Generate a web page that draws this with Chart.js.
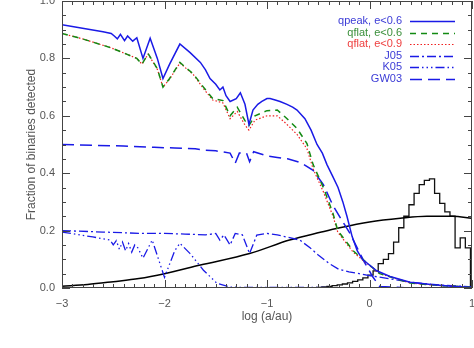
<!DOCTYPE html>
<html>
<head>
<meta charset="utf-8">
<script src="https://cdn.jsdelivr.net/npm/chart.js@4.4.1/dist/chart.umd.min.js"></script>
<style>
  html, body { margin: 0; padding: 0; background: #fff; overflow: hidden; }
  #wrap { position: relative; width: 474px; height: 348px; }
</style>
</head>
<body>
<div id="wrap"><canvas id="myChart"></canvas></div>
<script>
// values (x = log a/au, y = fraction detected)
const qpeakX = [-3, -2.8, -2.6, -2.52, -2.49, -2.46, -2.43, -2.39, -2.36, -2.31, -2.27, -2.21, -2.14, -2.07, -2.015, -1.95, -1.85, -1.75, -1.65, -1.6, -1.556, -1.5, -1.46, -1.43, -1.4, -1.36, -1.3, -1.26, -1.215, -1.176, -1.137, -1.09, -1.05, -1.0, -0.97, -0.92, -0.873, -0.805, -0.75, -0.707, -0.63, -0.57, -0.512, -0.46, -0.415, -0.36, -0.307, -0.26, -0.22, -0.17, -0.12, -0.07, -0.024, 0.07, 0.2, 0.395, 0.6, 0.8, 1.0];
const qpeakY = [0.917, 0.905, 0.893, 0.887, 0.878, 0.868, 0.884, 0.862, 0.878, 0.86, 0.872, 0.80, 0.87, 0.80, 0.73, 0.78, 0.85, 0.82, 0.786, 0.76, 0.73, 0.71, 0.69, 0.70, 0.67, 0.65, 0.66, 0.68, 0.64, 0.57, 0.62, 0.64, 0.65, 0.66, 0.66, 0.655, 0.65, 0.64, 0.63, 0.62, 0.59, 0.55, 0.50, 0.47, 0.43, 0.39, 0.35, 0.30, 0.25, 0.18, 0.13, 0.10, 0.087, 0.06, 0.04, 0.02, 0.012, 0.006, 0.003];

const qflatX = [-3, -2.8, -2.53, -2.37, -2.27, -2.22, -2.16, -2.07, -2.015, -1.95, -1.85, -1.72, -1.62, -1.53, -1.43, -1.36, -1.29, -1.215, -1.176, -1.117, -1.0, -0.9, -0.82, -0.707, -0.61, -0.55, -0.45, -0.356, -0.31, -0.16, -0.024, 0.1, 0.4, 0.7, 1.0];
const qflat6Y = [0.887, 0.868, 0.838, 0.815, 0.80, 0.78, 0.817, 0.764, 0.70, 0.73, 0.786, 0.746, 0.70, 0.66, 0.653, 0.60, 0.63, 0.583, 0.566, 0.60, 0.618, 0.62, 0.595, 0.556, 0.503, 0.43, 0.35, 0.26, 0.20, 0.13, 0.087, 0.05, 0.017, 0.008, 0.003];
const qflat9Y = [0.887, 0.868, 0.838, 0.815, 0.80, 0.78, 0.815, 0.762, 0.70, 0.728, 0.784, 0.744, 0.695, 0.655, 0.645, 0.59, 0.615, 0.568, 0.55, 0.585, 0.60, 0.60, 0.575, 0.535, 0.485, 0.415, 0.335, 0.25, 0.195, 0.125, 0.085, 0.05, 0.017, 0.008, 0.003];

const j05X = [-3, -2.6, -2.2, -2.0, -1.8, -1.6, -1.5, -1.46, -1.42, -1.36, -1.31, -1.24, -1.17, -1.1, -1.0, -0.9, -0.8, -0.68, -0.58, -0.5, -0.4, -0.3, -0.2, -0.1, 0.0, 0.2, 0.4, 0.7, 1.0];
const j05Y = [0.20, 0.195, 0.19, 0.19, 0.188, 0.185, 0.19, 0.167, 0.185, 0.15, 0.19, 0.185, 0.12, 0.184, 0.19, 0.185, 0.177, 0.167, 0.14, 0.115, 0.087, 0.065, 0.056, 0.05, 0.043, 0.032, 0.02, 0.01, 0.004];

const k05X = [-3, -2.7, -2.53, -2.5, -2.47, -2.44, -2.41, -2.38, -2.35, -2.32, -2.29, -2.26, -2.21, -2.12, -2.0, -1.9, -1.85, -1.75, -1.62, -1.49, -1.36, -1.2, 1.0];
const k05Y = [0.195, 0.178, 0.167, 0.15, 0.165, 0.135, 0.16, 0.13, 0.155, 0.125, 0.15, 0.14, 0.104, 0.167, 0.037, 0.13, 0.156, 0.12, 0.062, 0.017, 0.003, 0.002, 0.001];

const gw03X = [-3, -2.7, -2.4, -2.1, -1.9, -1.7, -1.6, -1.5, -1.36, -1.31, -1.27, -1.2, -1.17, -1.13, -1.0, -0.9, -0.8, -0.7, -0.64, -0.55, -0.45, -0.36, -0.26, -0.19, -0.12, -0.05, 0.03, 0.1, 0.4, 1.0];
const gw03Y = [0.50, 0.497, 0.495, 0.49, 0.488, 0.485, 0.48, 0.478, 0.47, 0.435, 0.47, 0.47, 0.44, 0.475, 0.46, 0.455, 0.45, 0.44, 0.43, 0.41, 0.36, 0.29, 0.23, 0.19, 0.14, 0.09, 0.04, 0.005, 0, 0];

const modelX = [-3, -2.75, -2.5, -2.25, -2.0, -1.65, -1.17, -0.78, -0.48, -0.29, 0.0, 0.3, 0.56, 0.81, 1.0];
const modelY = [0.006, 0.012, 0.022, 0.033, 0.05, 0.08, 0.12, 0.167, 0.194, 0.21, 0.23, 0.243, 0.25, 0.25, 0.243];

const histEdges = [-0.7, -0.515, -0.465, -0.415, -0.365, -0.315, -0.265, -0.215, -0.165, -0.115, -0.065, -0.015, 0.035, 0.085, 0.135, 0.185, 0.235, 0.285, 0.335, 0.385, 0.435, 0.485, 0.535, 0.585, 0.635, 0.685, 0.735, 0.785, 0.835, 0.885, 0.935, 0.985];
const histCounts = [0, 0.002, 0.004, 0.006, 0.008, 0.011, 0.014, 0.018, 0.023, 0.028, 0.035, 0.045, 0.06, 0.085, 0.10, 0.12, 0.16, 0.21, 0.25, 0.29, 0.33, 0.36, 0.375, 0.38, 0.33, 0.295, 0.265, 0.25, 0.14, 0.175, 0.14, 0];

const legendNames = ["qpeak, e<0.6", "qflat, e<0.6", "qflat, e<0.9", "J05", "K05", "GW03"];

function pts(xs, ys) {
  return xs.map((v, i) => ({ x: v, y: ys[i] }));
}

const blue = "#1a1ae6";
const labelFont = { family: "Liberation Sans", size: 11 };
const titleFont = { family: "Liberation Sans", size: 12 };

// inward ticks on all four sides + box, IDL style
const frameTicks = {
  id: "frameTicks",
  afterDatasetsDraw(chart) {
    const { ctx, chartArea: a, scales: { x, y } } = chart;
    ctx.save();
    ctx.strokeStyle = "#444";
    ctx.lineWidth = 1;
    ctx.strokeRect(a.left + 0.5, a.top + 0.5, a.right - a.left - 1, a.bottom - a.top - 1);
    ctx.beginPath();
    for (let i = 0; i <= 40; i++) {
      const px = Math.round(x.getPixelForValue(-3 + i * 0.1)) + 0.5;
      const len = i % 10 === 0 ? 8 : 4;
      ctx.moveTo(px, a.bottom); ctx.lineTo(px, a.bottom - len);
      ctx.moveTo(px, a.top); ctx.lineTo(px, a.top + len);
    }
    for (let i = 0; i <= 20; i++) {
      const py = Math.round(y.getPixelForValue(i * 0.05)) + 0.5;
      const len = i % 4 === 0 ? 8 : 4;
      ctx.moveTo(a.left, py); ctx.lineTo(a.left + len, py);
      ctx.moveTo(a.right, py); ctx.lineTo(a.right - len, py);
    }
    ctx.stroke();
    ctx.restore();
  }
};

// legend: right-aligned names with a line sample on their right
const legendLines = {
  id: "legendLines",
  afterDraw(chart) {
    const { ctx } = chart;
    ctx.save();
    ctx.font = "11px 'Liberation Sans'";
    ctx.textAlign = "right";
    ctx.textBaseline = "middle";
    chart.data.datasets.forEach((ds, i) => {
      if (!ds.label) return;
      const yy = 21 + i * 11.6;
      ctx.fillStyle = ds.textColor;
      ctx.fillText(ds.label, 402, yy);
      ctx.strokeStyle = ds.borderColor;
      ctx.lineWidth = ds.borderWidth;
      ctx.setLineDash(ds.borderDash || []);
      ctx.beginPath();
      ctx.moveTo(410, Math.round(yy) + 0.5);
      ctx.lineTo(455, Math.round(yy) + 0.5);
      ctx.stroke();
    });
    ctx.restore();
  }
};

const ctx = document.getElementById("myChart");
new Chart(ctx, {
  type: "line",
  data: {
    datasets: [
      { label: legendNames[0], data: pts(qpeakX, qpeakY), borderColor: blue, textColor: "#3b3bd6", borderWidth: 1.5 },
      { label: legendNames[1], data: pts(qflatX, qflat6Y), borderColor: "#138a13", textColor: "#3a8f3a", borderWidth: 1.5, borderDash: [6, 5] },
      { label: legendNames[2], data: pts(qflatX, qflat9Y), borderColor: "#f02020", textColor: "#ee4040", borderWidth: 1.2, borderDash: [1.5, 2] },
      { label: legendNames[3], data: pts(j05X, j05Y), borderColor: blue, textColor: "#3b3bd6", borderWidth: 1.3, borderDash: [9, 3, 2, 3] },
      { label: legendNames[4], data: pts(k05X, k05Y), borderColor: blue, textColor: "#3b3bd6", borderWidth: 1.3, borderDash: [9, 3, 1.5, 3, 1.5, 3, 1.5, 3] },
      { label: legendNames[5], data: pts(gw03X, gw03Y), borderColor: blue, textColor: "#3b3bd6", borderWidth: 1.5, borderDash: [12, 6] },
      { data: pts(modelX, modelY), borderColor: "#000", borderWidth: 1.5, cubicInterpolationMode: "monotone" },
      { data: pts(histEdges, histCounts), borderColor: "#111", borderWidth: 1.3, stepped: "before" }
    ]
  },
  options: {
    responsive: true,
    maintainAspectRatio: false,
    animation: false,
    layout: { padding: { top: 1, right: 2, left: 0, bottom: 0 } },
    elements: { point: { radius: 0 }, line: { tension: 0 } },
    plugins: {
      legend: { display: false },
      tooltip: { enabled: false }
    },
    scales: {
      x: {
        type: "linear",
        min: -3,
        max: 1,
        grid: { display: false, drawTicks: false },
        border: { display: false },
        ticks: {
          stepSize: 1,
          padding: 9,
          maxRotation: 0,
          autoSkip: false,
          color: "#555",
          font: labelFont,
          callback: (v) => (v < 0 ? "\u2212" + Math.abs(v) : String(v))
        },
        title: { display: true, text: "log (a/au)", color: "#555", font: titleFont, padding: { top: 0, bottom: 24 } },
        afterFit: (s) => { s.height = 60; s.paddingLeft = 0; s.paddingRight = 0; }
      },
      y: {
        min: 0,
        max: 1,
        grid: { display: false, drawTicks: false },
        border: { display: false },
        ticks: {
          stepSize: 0.2,
          padding: 7,
          color: "#555",
          font: labelFont,
          callback: (v) => v.toFixed(1)
        },
        title: { display: true, text: "Fraction of binaries detected", color: "#555", font: titleFont, padding: { top: 24, bottom: 0 } },
        afterFit: (s) => { s.width = 62; s.paddingTop = 0; s.paddingBottom = 0; }
      }
    }
  },
  plugins: [frameTicks, legendLines]
});
</script>
</body>
</html>
